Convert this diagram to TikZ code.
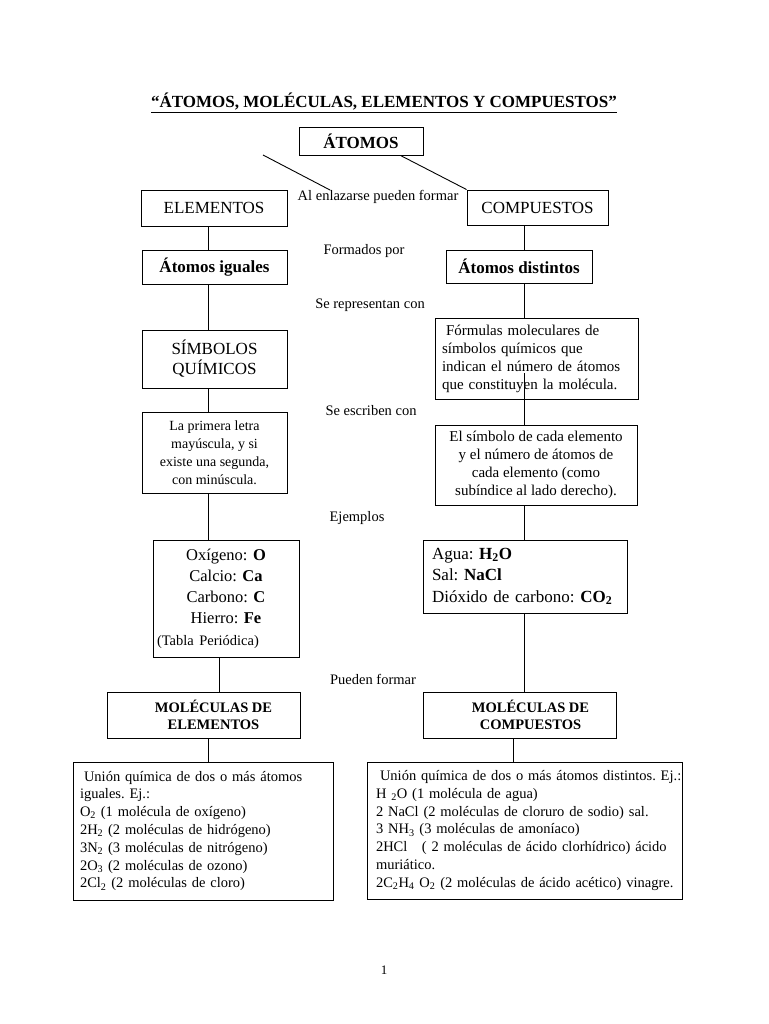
\documentclass[tikz,border=0pt]{standalone}
\usepackage{fontspec}
\setmainfont{Liberation Serif}
\usetikzlibrary{calc}
\begin{document}
\frenchspacing
\begin{tikzpicture}[x=1pt,y=-1pt,
  box/.style={draw, line width=0.9pt, inner sep=0pt, align=center},
  con/.style={line width=0.9pt},
  lbl/.style={inner sep=0pt, font=\fontsize{14.5}{16}\selectfont},
  big/.style={font=\fontsize{17}{20}\selectfont},
  bigb/.style={font=\fontsize{17}{20}\selectfont\bfseries},
  mid/.style={font=\fontsize{15}{18}\selectfont},
  molb/.style={font=\fontsize{14.5}{17}\selectfont\bfseries},
  ejtxt/.style={font=\fontsize{14.5}{17.8}\selectfont, align=left}]
\useasboundingbox (0,0) rectangle (768,1024);
\fill[white] (0,0) rectangle (768,1024);

% title
\node[inner sep=0pt, font=\fontsize{17}{20}\selectfont\bfseries] (title) at (384,103)
  {\underline{“ÁTOMOS, MOLÉCULAS, ELEMENTOS Y COMPUESTOS”}};

% boxes
\node[box, bigb, minimum width=124pt, minimum height=28pt] (atomos) at (361,141) {ÁTOMOS};
\node[box, big, minimum width=146pt, minimum height=36pt] (elem) at (214,208) {ELEMENTOS};
\node[box, big, minimum width=141pt, minimum height=35pt] (comp) at (537.5,207.5) {COMPUESTOS};
\node[box, bigb, minimum width=145pt, minimum height=34pt] (iguales) at (214.5,267) {Átomos iguales};
\node[box, bigb, minimum width=146pt, minimum height=33pt] (distintos) at (519,266.5) {Átomos distintos};
\node[box, big, minimum width=145pt, minimum height=58pt] (simbolos) at (214.5,359) {SÍMBOLOS\\QUÍMICOS};
\node[box, mid, align=left, minimum width=203pt, minimum height=81pt, text width=189pt] (formulas) at (536.5,358.5)
  {\mbox{\hspace{4pt}Fórmulas moleculares de}\\ \mbox{símbolos químicos que}\\ \mbox{indican el número de átomos}\\ \mbox{que constituyen la molécula.}};
\node[box, font=\fontsize{14}{18}\selectfont, minimum width=145pt, minimum height=81pt] (primera) at (214.5,452.5)
  {La primera letra\\ mayúscula, y si\\ existe una segunda,\\ con minúscula.};
\node[box, mid, minimum width=202pt, minimum height=80pt] (simbolo) at (536,465)
  {El símbolo de cada elemento\\ y el número de átomos de\\ cada elemento (como\\ subíndice al lado derecho).};
\node[box, font=\fontsize{16.5}{21.2}\selectfont, minimum width=146pt, minimum height=117pt, text width=138pt] (oxigeno) at (226,598.5)
  {Oxígeno: \textbf{O}\\ Calcio: \textbf{Ca}\\ Carbono: \textbf{C}\\ Hierro: \textbf{Fe}\\
   \makebox[138pt][l]{\fontsize{14.5}{18}\selectfont(Tabla Periódica)}};
\node[box, font=\fontsize{17}{21.5}\selectfont, align=left, minimum width=204pt, minimum height=73pt, text width=186pt] (agua) at (525,576.5)
  {\mbox{Agua: \textbf{H\textsubscript{2}O}}\\ \mbox{Sal: \textbf{NaCl}}\\ \mbox{Dióxido de carbono: \textbf{CO\textsubscript{2}}}};
\node[box, molb, minimum width=193pt, minimum height=46pt] (molelem) at (203.5,715)
  {\hspace*{20pt}MOLÉCULAS DE\\ \hspace*{20pt}ELEMENTOS};
\node[box, molb, minimum width=193pt, minimum height=46pt] (molcomp) at (519.5,715)
  {\hspace*{22pt}MOLÉCULAS DE\\ \hspace*{22pt}COMPUESTOS};
\node[box, ejtxt, minimum width=260pt, minimum height=138pt, text width=246pt] (unionL) at (203,831)
  {\mbox{\hspace{4pt}Unión química de dos o más átomos}\\
   \mbox{iguales. Ej.:}\\
   \mbox{O\textsubscript{2} (1 molécula de oxígeno)}\\
   \mbox{2H\textsubscript{2} (2 moléculas de hidrógeno)}\\
   \mbox{3N\textsubscript{2} (3 moléculas de nitrógeno)}\\
   \mbox{2O\textsubscript{3} (2 moléculas de ozono)}\\
   \mbox{2Cl\textsubscript{2} (2 moléculas de cloro)}};
\node[box, ejtxt, minimum width=315pt, minimum height=137pt, text width=297pt] (unionR) at (524.5,830.5)
  {\mbox{\hspace{4pt}Unión química de dos o más átomos distintos. Ej.:}\\
   \mbox{H \textsubscript{2}O (1 molécula de agua)}\\
   \mbox{2 NaCl (2 moléculas de cloruro de sodio) sal.}\\
   \mbox{3 NH\textsubscript{3} (3 moléculas de amoníaco)}\\
   \mbox{2HCl\ \ \ ( 2 moléculas de ácido clorhídrico) ácido}\\
   \mbox{muriático.}\\
   \mbox{2C\textsubscript{2}H\textsubscript{4} O\textsubscript{2} (2 moléculas de ácido acético) vinagre.}};

% connector labels
\node[lbl] (l1) at (378,197) {Al enlazarse pueden formar};
\node[lbl] (l2) at (364,251) {Formados por};
\node[lbl] (l3) at (370,305) {Se representan con};
\node[lbl] (l4) at (371,411) {Se escriben con};
\node[lbl] (l5) at (357,518) {Ejemplos};
\node[lbl] (l6) at (373,679) {Pueden formar};

% page number
\node[inner sep=0pt, font=\fontsize{13}{15}\selectfont] (pnum) at (384,970) {1};

% connectors
\coordinate (dl1) at (263,155);
\coordinate (dl2) at (330,190);
\draw[con] (dl1) -- (dl2);
\draw[con] ([xshift=-23pt]atomos.south east) -- (comp.north west);

\coordinate (xL) at (208,0);
\coordinate (xO) at (219,0);
\coordinate (xR) at (524.5,0);
\coordinate (xB) at (513,0);
\draw[con] (elem.south -| xL) -- (iguales.north -| xL);
\draw[con] (iguales.south -| xL) -- (simbolos.north -| xL);
\draw[con] (simbolos.south -| xL) -- (primera.north -| xL);
\draw[con] (primera.south -| xL) -- (oxigeno.north -| xL);
\draw[con] (oxigeno.south -| xO) -- (molelem.north -| xO);
\draw[con] (molelem.south -| xL) -- (unionL.north -| xL);

\draw[con] (comp.south -| xR) -- (distintos.north -| xR);
\draw[con] (distintos.south -| xR) -- (formulas.north -| xR);
\coordinate (fin) at (524.5,373);
\draw[con] (fin) -- (formulas.south -| fin);
\draw[con] (formulas.south -| xR) -- (simbolo.north -| xR);
\draw[con] (simbolo.south -| xR) -- (agua.north -| xR);
\draw[con] (agua.south -| xR) -- (molcomp.north -| xR);
\draw[con] (molcomp.south -| xB) -- (unionR.north -| xB);
\end{tikzpicture}
\end{document}
